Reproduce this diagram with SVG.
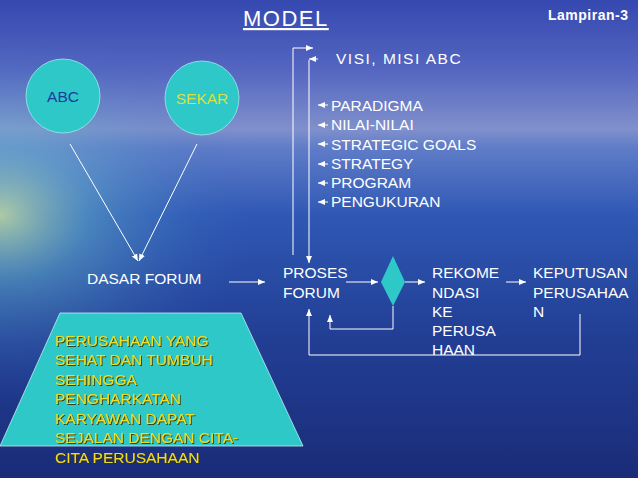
<svg xmlns="http://www.w3.org/2000/svg" width="638" height="478" viewBox="0 0 638 478">
<defs>
<linearGradient id="bg" x1="0" y1="0" x2="0" y2="1">
<stop offset="0" stop-color="#3548b0"/>
<stop offset="0.15" stop-color="#5567c0"/>
<stop offset="0.27" stop-color="#8090cc"/>
<stop offset="0.31" stop-color="#5f7cc8"/>
<stop offset="0.45" stop-color="#2f58b4"/>
<stop offset="0.7" stop-color="#223f95"/>
<stop offset="1" stop-color="#1a2c78"/>
</linearGradient>
<radialGradient id="glow" cx="0" cy="0.45" r="0.4">
<stop offset="0" stop-color="#d8f0a0" stop-opacity="0.75"/>
<stop offset="0.35" stop-color="#70c8d0" stop-opacity="0.4"/>
<stop offset="1" stop-color="#3060c0" stop-opacity="0"/>
</radialGradient>
<marker id="ah" markerWidth="8" markerHeight="8" refX="7" refY="4" orient="auto" markerUnits="userSpaceOnUse">
<path d="M0,1 L7,4 L0,7 Z" fill="#ffffff"/>
</marker>
<filter id="sh" x="-5%" y="-20%" width="110%" height="140%"><feDropShadow dx="1" dy="1" stdDeviation="0" flood-color="#3a3000" flood-opacity="0.9"/></filter>
<style>
.t{font-family:"Liberation Sans",Arial,sans-serif;font-size:15.5px;fill:#ffffff}
.y{font-family:"Liberation Sans",Arial,sans-serif;font-size:15.5px;fill:#f0dc20;filter:url(#sh)}
.ln{stroke:#ffffff;stroke-width:1;fill:none}
.ar{stroke:#ffffff;stroke-width:1;fill:none;marker-end:url(#ah)}
</style>
</defs>
<rect width="638" height="478" fill="url(#bg)"/>
<rect width="638" height="478" fill="url(#glow)"/>
<text x="243" y="26" class="t" style="font-size:22px;letter-spacing:1.5px;text-decoration:underline">MODEL</text>
<text x="548" y="20" class="t" style="font-size:14px;font-weight:bold;letter-spacing:0.5px">Lampiran-3</text>
<g id="abc"><circle cx="63" cy="96" r="37" fill="#2ec8c8" stroke="#a0e8e8" stroke-width="0.8"/><text x="63" y="102" text-anchor="middle" class="t" style="fill:#1a3aa0">ABC</text></g>
<g id="sekar"><circle cx="202" cy="98" r="37" fill="#2ec8c8" stroke="#a0e8e8" stroke-width="0.8"/><text x="202" y="104" text-anchor="middle" class="t" style="fill:#d8e040">SEKAR</text></g>
<g id="dasar"><text x="87" y="284" class="t">DASAR FORUM</text></g>
<g id="visi"><text x="336" y="64" class="t" style="letter-spacing:1.5px">VISI, MISI  ABC</text></g>
<g id="list">
<text x="331" y="111" class="t">PARADIGMA</text>
<text x="331" y="130" class="t">NILAI-NILAI</text>
<text x="331" y="150" class="t">STRATEGIC GOALS</text>
<text x="331" y="169" class="t">STRATEGY</text>
<text x="331" y="188" class="t">PROGRAM</text>
<text x="331" y="207" class="t">PENGUKURAN</text>
</g>
<g id="proses"><text x="283" y="278" class="t">PROSES</text><text x="283" y="298" class="t">FORUM</text></g>
<g id="diamond"><path d="M393,256 L405,282 L393,306 L381,282 Z" fill="#2ec8c8"/></g>
<g id="rekom"><text x="432" y="278" class="t">REKOME</text><text x="432" y="298" class="t">NDASI</text><text x="432" y="317" class="t">KE</text><text x="432" y="336" class="t">PERUSA</text><text x="432" y="355" class="t">HAAN</text></g>
<g id="keputusan"><text x="533" y="278" class="t">KEPUTUSAN</text><text x="533" y="298" class="t">PERUSAHAA</text><text x="533" y="317" class="t">N</text></g>
<g id="tujuan">
<path d="M60,313 L241,313 L303,446 L0,446 Z" fill="#2ec8c8" stroke="#c0f0f0" stroke-width="0.8"/>
<text x="55" y="346" class="y">PERUSAHAAN YANG</text>
<text x="55" y="365" class="y">SEHAT DAN TUMBUH</text>
<text x="55" y="385" class="y">SEHINGGA</text>
<text x="55" y="404" class="y">PENGHARKATAN</text>
<text x="55" y="424" class="y">KARYAWAN DAPAT</text>
<text x="55" y="443" class="y">SEJALAN DENGAN CITA-</text>
<text x="55" y="463" class="y">CITA PERUSAHAAN</text>
</g>
<g id="connectors">
<line x1="70" y1="144" x2="138" y2="261" class="ar"/>
<line x1="197" y1="144" x2="139" y2="261" class="ar"/>
<line x1="229" y1="282" x2="265" y2="282" class="ar"/>
<polyline points="293,255 293,48 313,48" class="ar"/>
<line x1="318" y1="59" x2="309" y2="59" class="ar"/>
<line x1="309" y1="60" x2="309" y2="263" class="ar"/>
<line x1="328" y1="105" x2="318" y2="105" class="ar"/>
<line x1="328" y1="125" x2="318" y2="125" class="ar"/>
<line x1="328" y1="144" x2="318" y2="144" class="ar"/>
<line x1="328" y1="164" x2="318" y2="164" class="ar"/>
<line x1="328" y1="183" x2="318" y2="183" class="ar"/>
<line x1="328" y1="202" x2="318" y2="202" class="ar"/>
<line x1="346" y1="282" x2="378" y2="282" class="ar"/>
<line x1="405" y1="282" x2="425" y2="282" class="ar"/>
<line x1="506" y1="282" x2="526" y2="282" class="ar"/>
<polyline points="393,306 393,329 330,329 330,315" class="ar"/>
<polyline points="580,314 580,355 309,355 309,309" class="ar"/>
</g>
</svg>
